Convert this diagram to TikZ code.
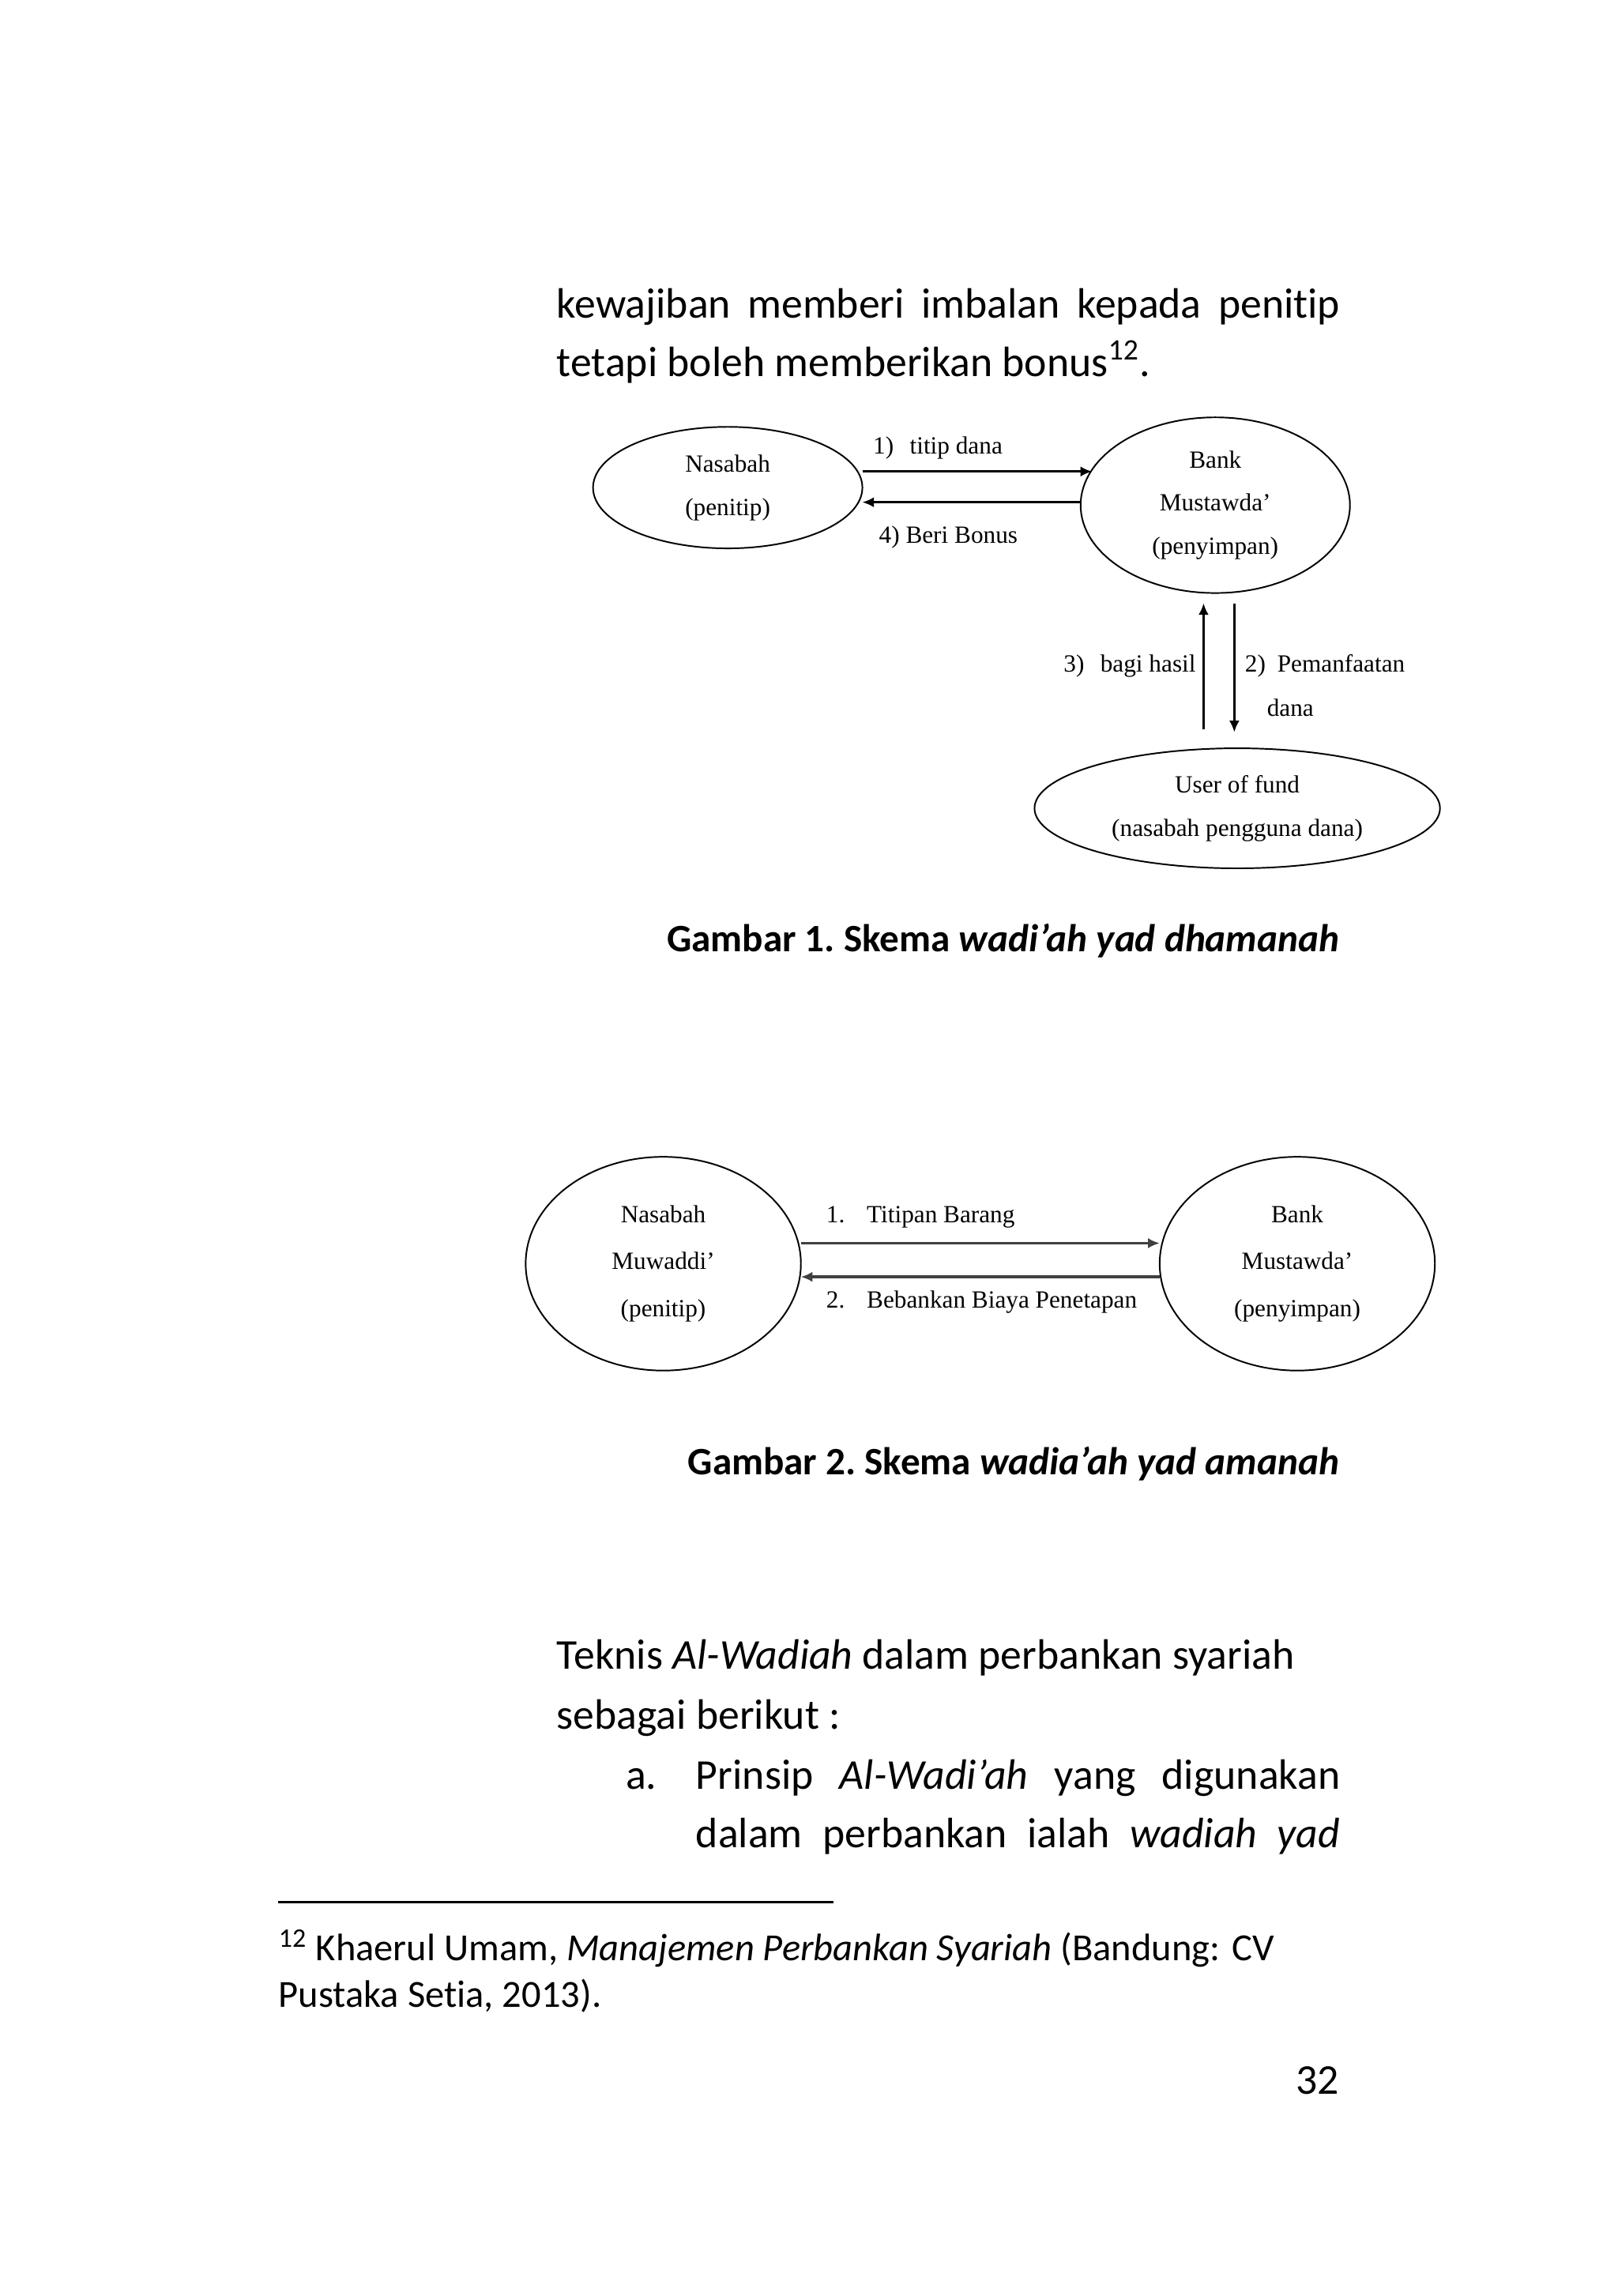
\documentclass[tikz,border=0pt]{standalone}
\usepackage{fontspec}
\setmainfont[Ligatures={TeX,NoCommon}]{Carlito}
\newfontfamily\tnr{Liberation Serif}
\usetikzlibrary{shapes, arrows.meta, positioning, calc}

\begin{document}
\begin{tikzpicture}[x=0.02cm, y=-0.02cm, >={Latex[length=4.5pt,width=4pt]},
        ell/.style={draw, ellipse, line width=0.6pt, inner sep=0pt, outer sep=0pt, align=center, font=\tnr\fontsize{9.6}{16.8}\selectfont},
        ellb/.style={ell, font=\tnr\fontsize{9.6}{18.2}\selectfont},
        lab/.style={font=\tnr\fontsize{9.6}{12}\selectfont, inner sep=0pt, anchor=base west},
        txt/.style={font=\fontsize{16.5}{20}\selectfont, inner sep=0pt, anchor=base west},
        gbr/.style={txt, anchor=base east, font=\bfseries\fontsize{15.1}{20}\selectfont},
        fn/.style={txt, font=\fontsize{14.9}{18}\selectfont},
        arr/.style={->, line width=0.8pt},
        arrb/.style={->, line width=1.1pt, black!75}]
    \useasboundingbox (0,0) rectangle (1105,1568);

    % text above
    \node[txt] at (380,217) (l1) {\makebox[10.7cm][s]{kewajiban memberi imbalan kepada penitip}};
    \node[txt] at (380,257) (l2) {tetapi boleh memberikan bonus\textsuperscript{12}.};

    % skema 1
    \node[ell, minimum width=3.68cm, minimum height=1.66cm] at (497,333) (nas) {Nasabah\\(penitip)};
    \node[ell, minimum width=3.68cm, minimum height=2.4cm] at (830,345) (bank) {Bank\\Mustawda’\\(penyimpan)};
    \node[ell, minimum width=5.54cm, minimum height=1.64cm] at (845,552) (user) {User of fund\\(nasabah pengguna dana)};

    \coordinate (n1) at ([yshift=0.22cm]nas.east);
    \draw[arr] (n1) -- (n1 -| bank.164.85);
    \coordinate (b4) at ([yshift=0.04cm]bank.west);
    \draw[arr] (b4) -- (b4 -| nas.east);

    \coordinate (u3) at ([xshift=-0.16cm]bank.south);
    \draw[arr, shorten <=0.26cm, shorten >=0.14cm] (u3 |- user.north) -- (u3);
    \coordinate (d2) at ([xshift=0.26cm]bank.south);
    \draw[arr, shorten <=0.14cm, shorten >=0.22cm] (d2) -- (d2 |- user.north);

    \node[lab] at (596,310) (ti) {1)\hspace{0.22cm}titip dana};
    \node[lab] at (600,371) (bo) {4) Beri Bonus};
    \node[lab, anchor=base east] at (817,459) (bh) {3)\hspace{0.22cm}bagi hasil};
    \node[lab] at (850,459) (pm) {2)\hspace{0.16cm}Pemanfaatan};
    \node[lab] at (865,489) (da) {dana};

    \node[gbr] at (915,650) (cap1) {Gambar 1.\ Skema \textit{wadi’ah yad dhamanah}};

    % skema 2
    \node[ellb, minimum width=3.76cm, minimum height=2.92cm] at (453,863) (muw) {Nasabah\\Muwaddi’\\(penitip)};
    \node[ellb, minimum width=3.76cm, minimum height=2.92cm] at (886,863) (bk2) {Bank\\Mustawda’\\(penyimpan)};

    \coordinate (t1) at ([yshift=0.28cm]muw.east);
    \draw[arrb] (t1) -- (t1 -| bk2.west);
    \coordinate (t2) at ([yshift=-0.18cm]bk2.west);
    \draw[arrb] (t2) -- (t2 -| muw.east);

    \node[lab] at (564,835) (tb) {1.\hspace{0.3cm}Titipan Barang};
    \node[lab] at (564,893) (bb) {2.\hspace{0.3cm}Bebankan Biaya Penetapan};

    \node[gbr] at (915,1007) (cap2) {Gambar 2.\ Skema \textit{wadia’ah yad amanah}};

    % text below
    \node[txt] at (380,1140) (p1) {Teknis \textit{Al-Wadiah} dalam perbankan syariah};
    \node[txt] at (380,1181) (p2) {sebagai berikut :};
    \node[txt] at (427,1222) (ia) {a.};
    \node[txt] at (475,1222) (p3) {\makebox[8.8cm][s]{Prinsip \textit{Al-Wadi’ah} yang digunakan}};
    \node[txt] at (475,1262) (p4) {\makebox[8.8cm][s]{dalam perbankan ialah \textit{wadiah yad}}};

    % footnote
    \draw[line width=1.1pt] (190,1299) -- (569,1299);
    \node[fn] at (190,1339) (f1) {\textsuperscript{12} Khaerul Umam, \textit{Manajemen Perbankan Syariah} (Bandung: CV};
    \node[fn] at (190,1371) (f2) {Pustaka Setia, 2013).};
    \node[txt, anchor=base east] at (915,1430) (pg) {32};
\end{tikzpicture}
\end{document}
